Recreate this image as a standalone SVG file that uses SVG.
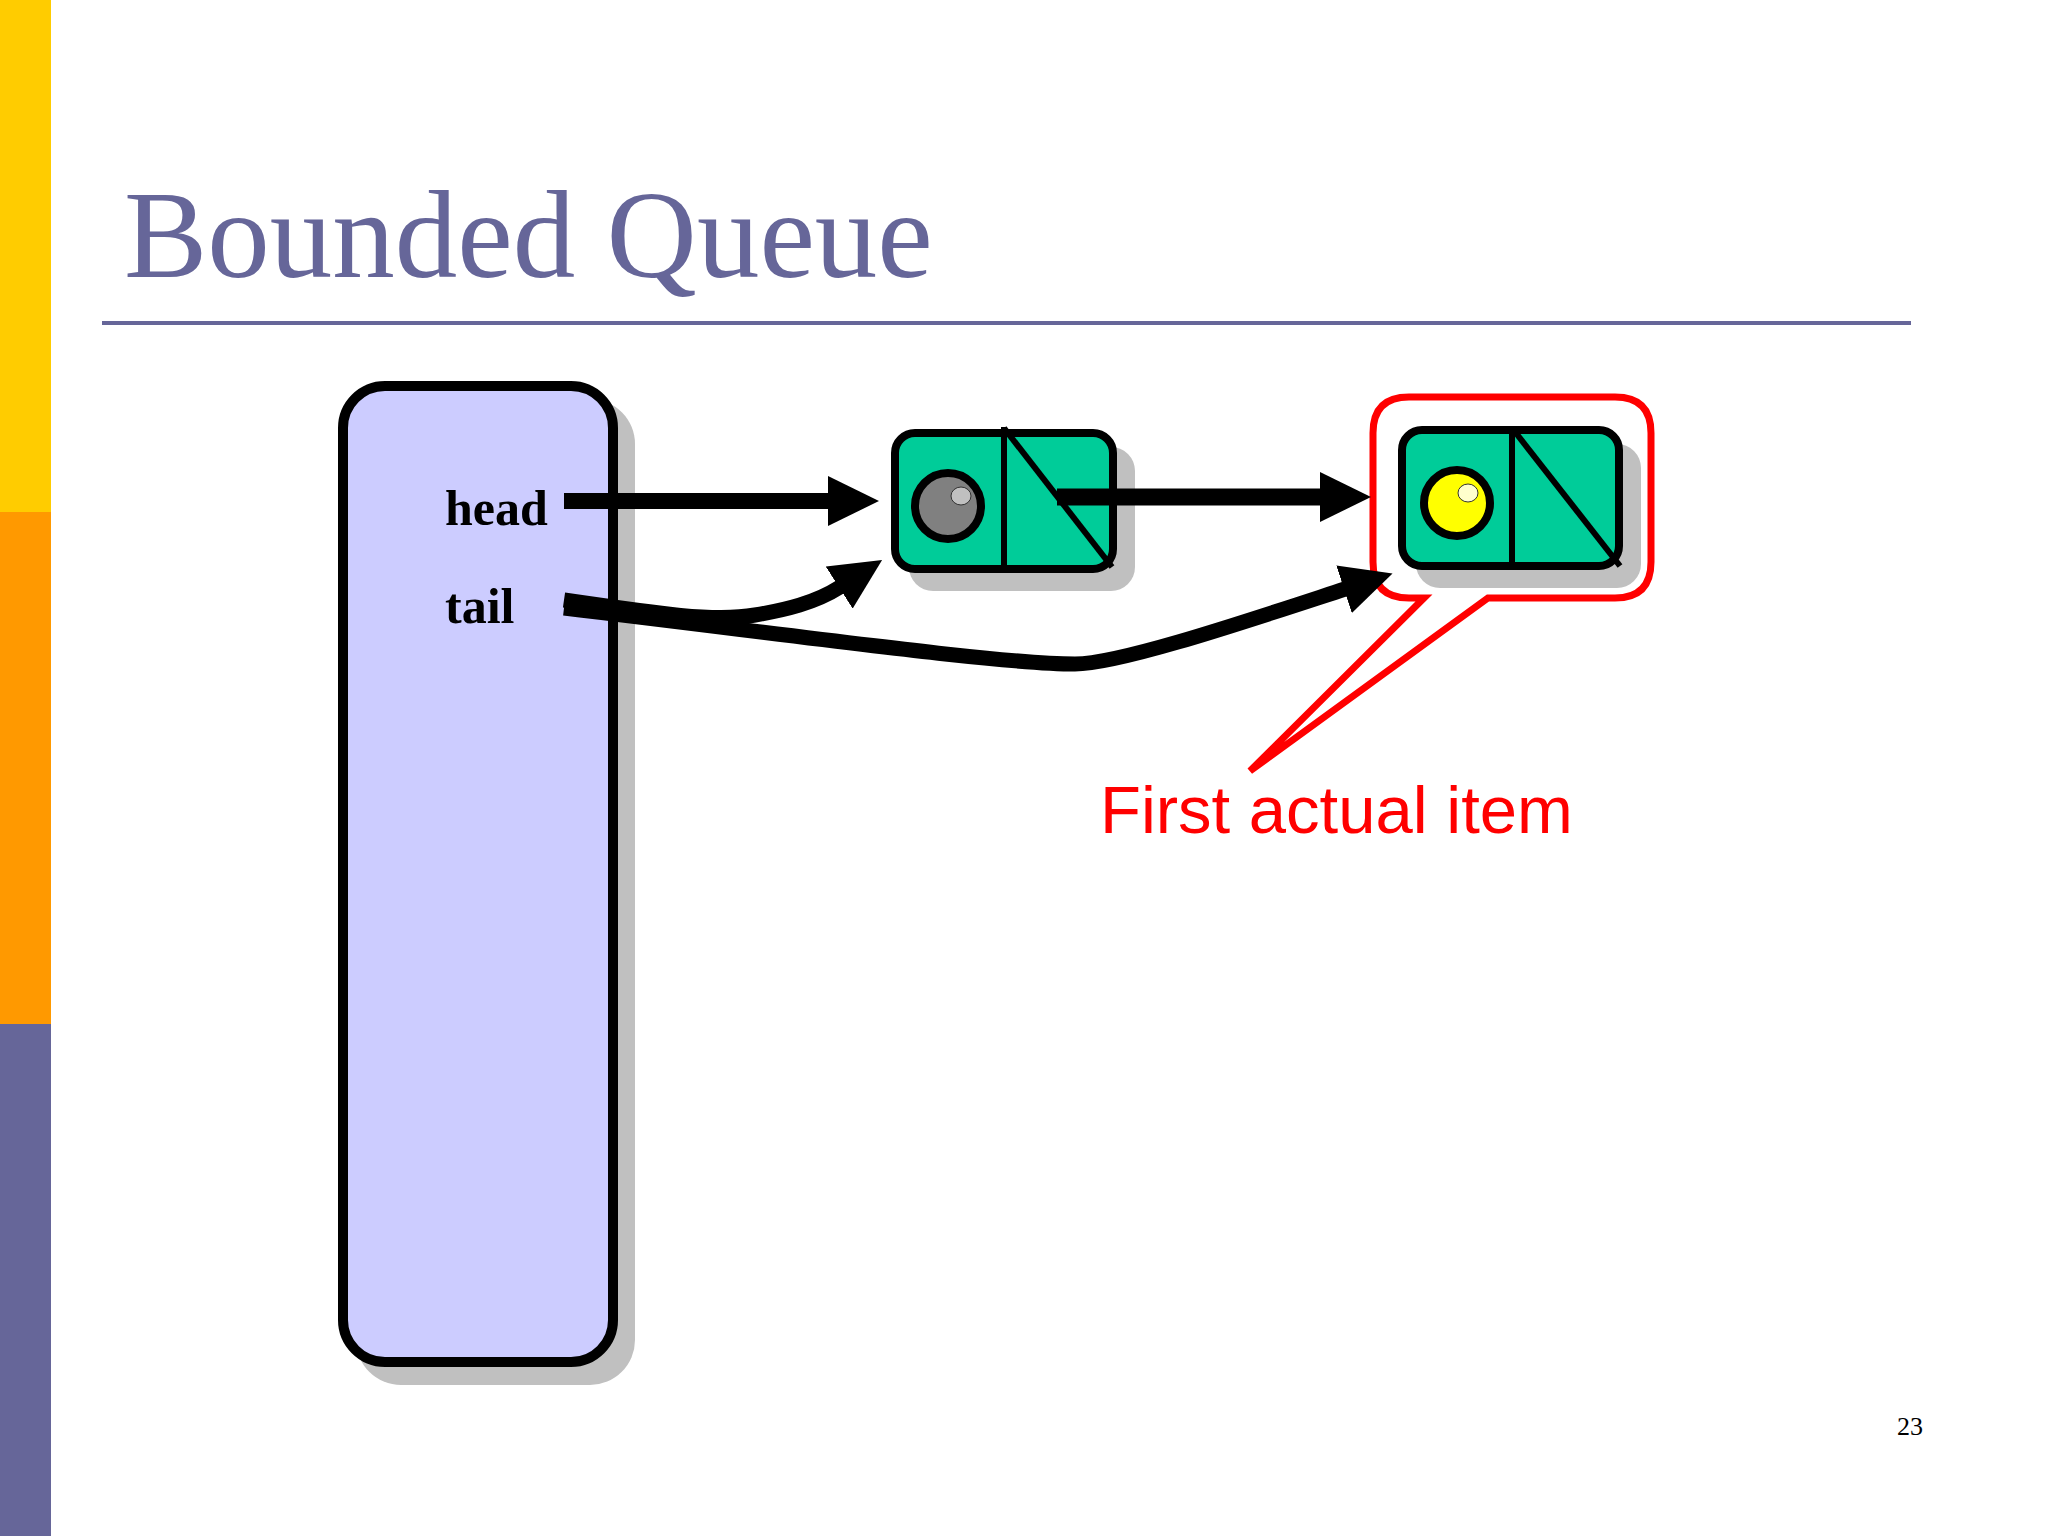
<svg xmlns="http://www.w3.org/2000/svg" width="2048" height="1536" viewBox="0 0 2048 1536">
<defs>
<style>
.shadow{fill:#C0C0C0}
.node{fill:#00CC99;stroke:#000;stroke-width:8}
.div{stroke:#000;stroke-width:6;fill:none}
.conn{fill:none;stroke:#000;stroke-width:16;marker-end:url(#ah)}
.lbl{font-family:"Liberation Serif","Times New Roman",serif;font-weight:bold;font-size:50px;fill:#000}
.ring{stroke:#000;stroke-width:8}
.hl{stroke:#333;stroke-width:1}
</style>
<marker id="ah" markerUnits="userSpaceOnUse" viewBox="0 0 51 50" refX="1" refY="25" markerWidth="51" markerHeight="50" orient="auto"><path d="M0,0 L51,25 L0,50 Z" fill="#000"/></marker>
</defs>
<rect width="2048" height="1536" fill="#fff"/>
<g id="sidebar">
<rect x="0" y="0" width="51" height="512" fill="#FFCC00"/>
<rect x="0" y="512" width="51" height="512" fill="#FF9900"/>
<rect x="0" y="1024" width="51" height="512" fill="#666699"/>
</g>
<g id="title">
<text x="124" y="277" font-family="'Liberation Serif','Times New Roman',serif" font-size="125" fill="#666699">Bounded Queue</text>
<rect x="102" y="321" width="1809" height="4" fill="#666699"/>
</g>
<g id="queue">
<rect class="shadow" x="356" y="399" width="279" height="986" rx="45"/>
<rect x="343" y="386" width="270" height="976" rx="42" fill="#CCCCFF" stroke="#000" stroke-width="10"/>
<text class="lbl" x="445" y="525">head</text>
<text class="lbl" x="445" y="623">tail</text>
</g>
<g id="node1">
<rect class="shadow" x="909" y="447" width="226" height="144" rx="24"/>
<rect class="node" x="895" y="433" width="218" height="136" rx="20"/>
<line class="div" x1="1004" y1="427" x2="1004" y2="569"/>
<line class="div" x1="1004" y1="428" x2="1112" y2="567"/>
<circle class="ring" cx="948" cy="506" r="33" fill="#808080"/>
<ellipse class="hl" cx="961" cy="496" rx="10" ry="9" fill="#C0C0C0"/>
</g>
<g id="node2">
<rect class="shadow" x="1416" y="444" width="225" height="144" rx="24"/>
<rect class="node" x="1402" y="430" width="217" height="136" rx="20"/>
<line class="div" x1="1512" y1="426" x2="1512" y2="566"/>
<line class="div" x1="1512" y1="428" x2="1620" y2="566"/>
<circle class="ring" cx="1457" cy="503" r="33" fill="#FFFF00"/>
<ellipse class="hl" cx="1468" cy="493" rx="10" ry="9" fill="#FFFFCC"/>
</g>
<g id="callout">
<path d="M1409,397 H1615 Q1651,397 1651,433 V562 Q1651,598 1615,598 H1488 L1250,771 L1424,598 H1409 Q1373,598 1373,562 V433 Q1373,397 1409,397 Z" fill="none" stroke="#FF0000" stroke-width="7"/>
<text x="1100" y="833" font-family="'Liberation Sans',Arial,sans-serif" font-size="67" fill="#FF0000">First actual item</text>
</g>
<g id="connectors">
<path class="conn" d="M564,501 H829"/>
<path class="conn" style="stroke-width:17" d="M1057,497 H1321"/>
<path class="conn" style="stroke-width:15" d="M564,600 C660,614 715,622 755,615 C785,610 815,603 840,587"/>
<path class="conn" style="stroke-width:15" d="M564,608 C800,636 1000,664 1075,664 C1120,664 1250,620 1345,589"/>
</g>
<text x="1897" y="1435" font-family="'Liberation Serif','Times New Roman',serif" font-size="26" fill="#000">23</text>
</svg>
